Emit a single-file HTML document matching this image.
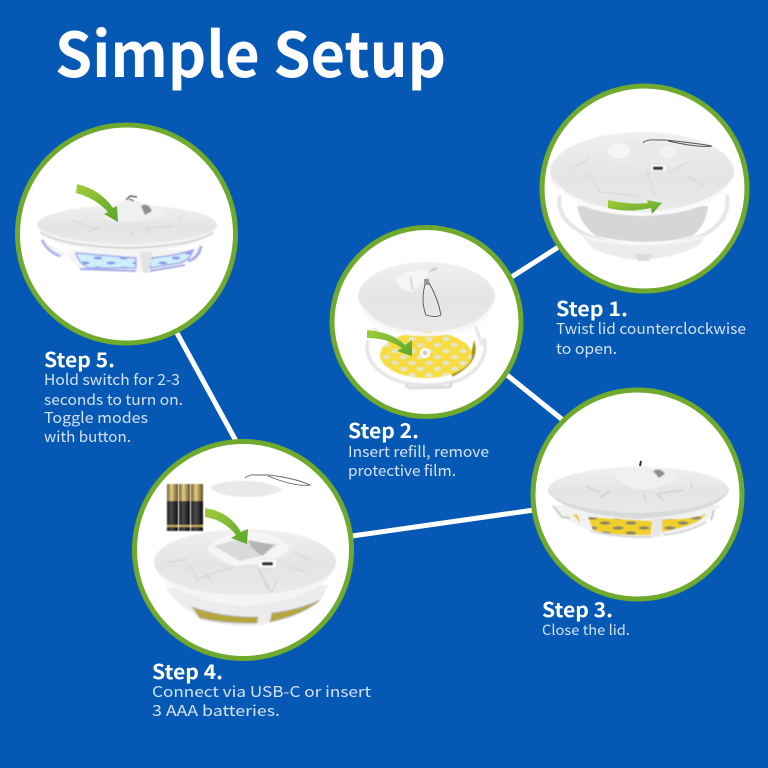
<!DOCTYPE html>
<html><head><meta charset="utf-8"><style>
html,body{margin:0;padding:0;background:#0658b5}
svg{display:block}
text{font-family:"Noto Sans CJK SC","Liberation Sans",sans-serif}
.h{font-size:20px;font-weight:700;fill:#fff}
.b{font-size:15px;fill:#d3e2f4}
</style></head><body>
<svg width="768" height="768" viewBox="0 0 768 768" xmlns="http://www.w3.org/2000/svg">
<defs>
<filter id="soft" x="-5%" y="-5%" width="110%" height="110%"><feGaussianBlur stdDeviation="0.5"/></filter>
<linearGradient id="lid" x1="0" y1="0" x2="0" y2="1"><stop offset="0" stop-color="#f0f0f0"/><stop offset=".55" stop-color="#e4e4e4"/><stop offset="1" stop-color="#e9e9e9"/></linearGradient>
<linearGradient id="arr" x1="0" y1="0" x2="1" y2="1"><stop offset="0" stop-color="#a4cc3c"/><stop offset="1" stop-color="#5aa62c"/></linearGradient>
<linearGradient id="bat" x1="0" y1="0" x2="1" y2="0"><stop offset="0" stop-color="#6b5a28"/><stop offset=".4" stop-color="#e6cf8a"/><stop offset="1" stop-color="#5e4c1e"/></linearGradient>
<linearGradient id="batb" x1="0" y1="0" x2="1" y2="0"><stop offset="0" stop-color="#222"/><stop offset=".4" stop-color="#4a4a4a"/><stop offset="1" stop-color="#0c0c0c"/></linearGradient>
<pattern id="dots" width="17" height="12" patternUnits="userSpaceOnUse"><rect width="17" height="12" fill="#f6dc3c"/><ellipse cx="4" cy="3" rx="3.6" ry="2.3" fill="#e6e4c4"/><ellipse cx="12.5" cy="9" rx="3.6" ry="2.3" fill="#e6e4c4"/></pattern>
<pattern id="ydark" width="26" height="10" patternUnits="userSpaceOnUse"><rect width="26" height="10" fill="#f0cf2c"/><ellipse cx="7" cy="3" rx="5.5" ry="1.6" fill="#8a8660"/><ellipse cx="20" cy="8" rx="5.5" ry="1.6" fill="#8a8660"/></pattern>
<pattern id="bdots" width="26" height="10" patternUnits="userSpaceOnUse"><rect width="26" height="10" fill="#cdeefa"/><ellipse cx="7" cy="3" rx="4.5" ry="1.5" fill="#8f98e8"/><ellipse cx="20" cy="8" rx="4.5" ry="1.5" fill="#8f98e8"/></pattern>
</defs>
<rect width="768" height="768" fill="#0658b5"/>

<!-- connectors -->
<g stroke="#fff" stroke-width="5" fill="none">
<line x1="510" y1="278" x2="560" y2="246"/>
<line x1="507" y1="375" x2="564" y2="421"/>
<line x1="352" y1="536" x2="534" y2="510"/>
<line x1="177" y1="333" x2="236" y2="441"/>
</g>

<!-- circles -->
<g fill="#fff" stroke="#6fa92e" stroke-width="5">
<circle cx="126.5" cy="234" r="109"/>
<circle cx="644.5" cy="188.5" r="102.5"/>
<circle cx="426.5" cy="322" r="94.5"/>
<circle cx="637.5" cy="494.5" r="104.5"/>
<circle cx="243" cy="550" r="108.5"/>
</g>

<g filter="url(#soft)">
<!-- STEP 5 product -->
<path d="M42,240 Q50,254 62,258 L70,250 L190,250 L202,246 Q200,258 190,262 L150,272 L80,270 L66,254Z" fill="#f4f4f4"/>
<path d="M42,240 Q48,252 60,256" fill="none" stroke="#b3b8ee" stroke-width="3"/>
<path d="M201,246 Q199,258 188,261" fill="none" stroke="#a9b0ec" stroke-width="3"/>
<path d="M76,253 L136,258 L136,268 L88,268 Q78,262 76,253Z" fill="url(#bdots)" stroke="#a5ace8" stroke-width="1.500"/>
<path d="M150,258 Q175,256 193,250 Q190,260 180,263 L150,268Z" fill="url(#bdots)" stroke="#a5ace8" stroke-width="1.500"/>
<path d="M80,269 L136,271 M150,271 L185,265" stroke="#a5ace8" stroke-width="2" fill="none"/>
<path d="M140,252 L152,252 L149,273 L143,273 Z" fill="#e4e4e4"/>
<path d="M37,225 Q45,250 128,252 Q208,250 217,225Z" fill="#f3f3f3"/>
<path d="M37,225 A90,20 0 0 1 217,225 Q210,240 128,245 Q45,240 37,225Z" fill="url(#lid)"/>
<path d="M40,232 Q60,246 128,248 Q195,246 214,232" fill="none" stroke="#cfcfcf" stroke-width="1.500"/>
<path d="M72,220 L96,229 M88,231 L100,227 M130,230 L134,238 M145,228 L172,226 M145,228 L150,234 M178,222 L181,217" stroke="#d6d6d6" stroke-width="1.200" fill="none"/>
<path d="M104,218 Q115,197 135,201 Q150,203 168,214 Q150,222 125,222 Q110,222 104,218Z" fill="#f0f0f0"/>
<path d="M141,206 Q148,202 152,211 L145,215Z" fill="#8f8f8f"/>
<path d="M126,200 L130,196 L137,197 M129,199 L134,201" stroke="#444" stroke-width="1.200" fill="none"/>

<!-- STEP 1 product -->
<path d="M560,195 Q556,215 575,228 Q596,244 642,246 Q695,244 714,228 Q730,215 727,195" fill="none" stroke="#e6e6e6" stroke-width="4"/>
<path d="M577,206 L708,206 Q706,226 692,236 Q650,248 596,236 Q580,224 577,206Z" fill="#d6d6d6"/>
<path d="M582,236 Q640,256 706,236 L698,246 Q672,258 642,260 Q610,258 592,248Z" fill="#ececec"/>
<path d="M585,237 Q640,252 704,237" fill="none" stroke="#f8f8f8" stroke-width="2"/>
<path d="M634,254 L652,254 L649,261 L638,261Z" fill="#dcdcdc"/>
<ellipse cx="642" cy="172" rx="92" ry="40" fill="url(#lid)"/>
<path d="M551,175 Q570,208 642,212 Q715,208 734,175 Q720,214 642,216 Q565,214 551,175Z" fill="#f9f9f9"/>
<path d="M568,172 L590,158 M590,175 L600,192 L640,196 M647,170 L655,196 M686,176 L705,186 M670,172 L688,162" stroke="#d9d9d9" stroke-width="1.300" fill="none"/>
<path d="M598,152 Q612,138 650,141 Q682,146 692,160 Q670,170 640,168 Q612,165 598,152Z" fill="#eaeaea"/>
<ellipse cx="619" cy="151" rx="11" ry="7.500" fill="#f6f6f6"/>
<ellipse cx="668" cy="152" rx="9" ry="6" fill="#f2f2f2"/>
<rect x="650" y="164" width="17" height="8" rx="2" fill="#f7f7f7" stroke="#ccc" stroke-width=".5"/>
<rect x="653" y="166.500" width="10" height="3.500" rx="1" fill="#333"/>

<!-- STEP 2 product -->
<path d="M368,340 Q362,365 395,380 Q425,390 460,380 Q490,365 484,338" fill="none" stroke="#e6e6e6" stroke-width="3.500"/>
<path d="M373,328 L378,332 M475,325 L482,345" stroke="#e6e6e6" stroke-width="3"/>
<path d="M405,385 L410,388 L450,387 L452,382" fill="none" stroke="#ddd" stroke-width="3"/>
<path d="M452,372 Q470,364 472,350 L474,340 Q482,362 452,377Z" fill="#a58b1f"/>
<ellipse cx="426" cy="355" rx="46" ry="23" fill="url(#dots)"/>
<circle cx="425" cy="353" r="5" fill="#fff"/>
<circle cx="425" cy="353" r="2.500" fill="#ccc"/>
<ellipse cx="426.500" cy="297" rx="68.500" ry="35" fill="url(#lid)"/>
<path d="M358,297 Q370,330 426,333 Q485,330 495,297 Q490,336 426,336 Q362,336 358,297Z" fill="#f8f8f8"/>
<path d="M395,280 Q405,270 425,270 Q435,272 412,292 Q400,290 395,280Z" fill="#f5f5f5"/>
<path d="M410,276 L413,290" stroke="#cfcfcf" stroke-width="1.500"/>
<path d="M430,271 L437,268" stroke="#bbb" stroke-width="1.500"/>

<!-- STEP 3 product -->
<path d="M552,505 L565,518 Q590,537 660,537 Q700,532 716,510 L722,505Z" fill="#f2f2f2"/>
<path d="M588,517 L652,521 L651,535 Q610,536 593,530 Z" fill="url(#ydark)"/>
<path d="M662,519 Q690,520 706,514 Q700,525 662,532 Z" fill="url(#ydark)"/>
<path d="M573,514 L580,523 L578,515Z" fill="#e9c928"/>
<path d="M553,506 L562,517 L570,518" fill="none" stroke="#cfcfbf" stroke-width="2"/>
<path d="M714,510 L711,520" stroke="#c9c9c0" stroke-width="2"/>
<path d="M652,518 L663,518 L660,537 L653,537Z" fill="#e6e6e6"/>
<path d="M590,531 Q620,538 652,537 M664,535 Q690,532 706,522" stroke="#d8d8d8" stroke-width="2" fill="none"/>
<ellipse cx="638.500" cy="490" rx="90.500" ry="23" fill="url(#lid)"/>
<path d="M548,490 Q560,510 638,513 Q716,510 729,490 Q722,513 638,519 Q556,513 548,490Z" fill="#d9d9d9"/>
<path d="M585,486 L600,492 M600,497 L610,492 M644,494 L646,501 M657,494 L683,490 M657,494 L664,501 M691,483 L692,488" stroke="#cdcdcd" stroke-width="1.300" fill="none"/>
<path d="M610,472 Q625,465 645,466 Q665,470 680,478 Q660,490 640,490 Q622,486 610,472Z" fill="#f0f0f0"/>
<path d="M653,471 Q660,467 665,474 L659,478Z" fill="#8e8e8e"/>

<!-- STEP 4 product -->
<rect x="167" y="484" width="11" height="47" fill="url(#batb)"/>
<rect x="179" y="484" width="11" height="47" fill="url(#batb)"/>
<rect x="191" y="484" width="12" height="47" fill="url(#batb)"/>
<rect x="167" y="484" width="11" height="17" fill="url(#bat)"/>
<rect x="179" y="484" width="11" height="17" fill="url(#bat)"/>
<rect x="191" y="484" width="12" height="17" fill="url(#bat)"/>
<path d="M167,526h11M179,526h11M191,526h12" stroke="#c2a760" stroke-width="2"/>
<path d="M210,487 Q222,480 250,481 Q275,483 282,490 Q272,497 245,497 Q218,497 210,487Z" fill="#e9e9e9"/>
<path d="M166,588 Q180,608 192,612 L200,620 Q235,628 262,625 L272,622 Q300,618 322,598 L328,585Z" fill="#ececec"/>
<path d="M192,607 Q225,618 258,617 L257,623 Q225,624 200,618Z" fill="#b5a53a" stroke="#bcbcbc" stroke-width="1"/>
<path d="M272,613 Q298,610 320,600 Q305,614 270,622Z" fill="#b5a53a" stroke="#bcbcbc" stroke-width="1"/>
<path d="M154,562 Q160,598 245,606 Q330,598 336,562Z" fill="#f4f4f4"/>
<ellipse cx="245" cy="562" rx="91" ry="33" fill="url(#lid)"/>
<path d="M166,563 L187,559 M190,565 L197,580 L210,574 L232,568 M206,574 L212,582 M260,570 L268,590 M258,570 L272,592 L278,578 M294,552 L310,560 M288,566 L306,572" stroke="#d6d6d6" stroke-width="1.300" fill="none"/>
<path d="M207,548 Q225,530 250,531 Q278,534 290,548 Q280,560 262,564 L235,566 Q215,560 207,548Z" fill="#f5f5f5"/>
<path d="M214,546 L235,540 L278,544 L264,555 L240,561Z" fill="#dadada"/>
<path d="M248,540 L274,545 L262,556 L252,548 Z" fill="#b5b5b5"/>
<rect x="258" y="559" width="19" height="9" rx="2" fill="#fafafa" stroke="#ccc" stroke-width=".5"/>
<rect x="262" y="562" width="11" height="3.500" rx="1" fill="#333"/>
</g>

<!-- wires and arrows (crisp) -->
<path d="M643,143 Q646,139 656,140 L665,140 Q695,143 712,146 Q700,148 668,141" fill="none" stroke="#555" stroke-width=".9"/>
<path d="M426,281 Q420,300 426,315 Q436,318 441,315 Q438,298 428,281Z" fill="none" stroke="#555" stroke-width=".9"/>
<rect x="424" y="279" width="5" height="6" fill="#999"/>
<path d="M640,466 L641,461" stroke="#333" stroke-width="2"/>
<path d="M245,478 Q250,474 255,475 L268,475 Q295,478 310,485 Q295,487 268,476" fill="none" stroke="#666" stroke-width=".9"/>
<path d="M77,184 Q101,190 113,208 L117,206 L118,222 L104,214 L108,212 Q95,198 76,193 Z" fill="url(#arr)"/>
<path d="M608,200 Q630,205 648,203 L647,200 L662,203 L652,214 L651,208 Q628,213 608,208 Z" fill="url(#arr)"/>
<path d="M367,330 Q392,332 405,345 L412,340 L412,356 L397,351 L402,348 Q388,338 367,338 Z" fill="url(#arr)"/>
<path d="M205,508 Q230,512 241,532 L248,529 L247,544 L231,538 L236,535 Q224,520 205,517 Z" fill="url(#arr)"/>

<!-- text -->
<text x="55" y="77" font-size="62" font-weight="700" fill="#fff" textLength="391" lengthAdjust="spacingAndGlyphs">Simple Setup</text>

<text class="h" x="556" y="316" textLength="72" lengthAdjust="spacingAndGlyphs">Step 1.</text>
<text class="b" x="556" y="334" textLength="190" lengthAdjust="spacingAndGlyphs">Twist lid counterclockwise</text>
<text class="b" x="556" y="354" textLength="61" lengthAdjust="spacingAndGlyphs">to open.</text>

<text class="h" x="348" y="438" textLength="71" lengthAdjust="spacingAndGlyphs">Step 2.</text>
<text class="b" x="348" y="457" textLength="141" lengthAdjust="spacingAndGlyphs">Insert refill, remove</text>
<text class="b" x="348" y="476" textLength="108" lengthAdjust="spacingAndGlyphs">protective film.</text>

<text class="h" x="542" y="617" textLength="71" lengthAdjust="spacingAndGlyphs">Step 3.</text>
<text class="b" x="542" y="635" style="font-size:14px" textLength="88" lengthAdjust="spacingAndGlyphs">Close the lid.</text>

<text class="h" x="152" y="679" textLength="71" lengthAdjust="spacingAndGlyphs">Step 4.</text>
<text class="b" x="152" y="697" textLength="219" lengthAdjust="spacingAndGlyphs">Connect via USB-C or insert</text>
<text class="b" x="152" y="716" textLength="128" lengthAdjust="spacingAndGlyphs">3 AAA batteries.</text>

<text class="h" x="44" y="367" textLength="71" lengthAdjust="spacingAndGlyphs">Step 5.</text>
<text class="b" x="44" y="385" textLength="136" lengthAdjust="spacingAndGlyphs">Hold switch for 2-3</text>
<text class="b" x="44" y="405" textLength="139" lengthAdjust="spacingAndGlyphs">seconds to turn on.</text>
<text class="b" x="44" y="423" textLength="104" lengthAdjust="spacingAndGlyphs">Toggle modes</text>
<text class="b" x="44" y="442" textLength="87" lengthAdjust="spacingAndGlyphs">with button.</text>
</svg>
</body></html>
